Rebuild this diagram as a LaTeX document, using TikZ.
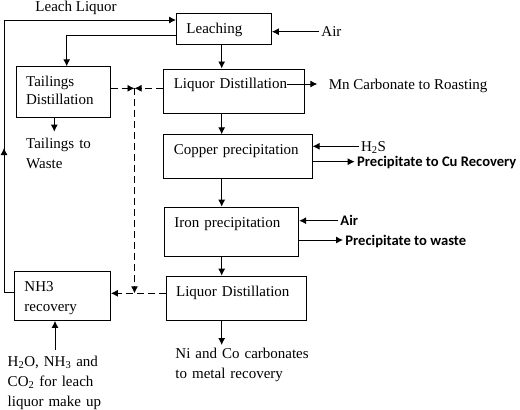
\documentclass[tikz,border=0pt]{standalone}
\usepackage{fontspec}
\setmainfont{Liberation Serif}
\newfontfamily\calib{Carlito}
\usetikzlibrary{arrows.meta,decorations.markings}

\begin{document}
\begin{tikzpicture}[x=1pt,y=-1pt,line width=0.9pt,
    font=\fontsize{15}{20}\selectfont,
    >={Latex[length=7pt,width=7pt]},
    box/.style={draw,anchor=north west,align=left,inner xsep=10pt,inner ysep=0pt,text height=20pt},
    lbl/.style={anchor=west,inner xsep=2pt,inner ysep=0pt,text height=10pt,text depth=0pt},
    blbl/.style={lbl,font=\fontsize{14.6}{20}\selectfont\calib\bfseries},
    mlbl/.style={anchor=north west,inner sep=0pt,align=left},
    flow/.style={dash pattern=on 7pt off 4pt}]
    \useasboundingbox (0,0) rectangle (520,410);
    % process boxes
    \node[box,text width=75pt,text depth=11pt] (leach) at (176,13) {Leaching};
    \node[box,text width=74.6pt,text depth=30.7pt] (tail) at (15.7,66.3) {Tailings\\[-2pt]Distillation};
    \node[box,text width=121pt,text depth=24pt] (liqA) at (163.3,68.5) {Liquor Distillation};
    \node[box,text width=128.4pt,text depth=23.4pt] (cu) at (163.3,134.3) {Copper precipitation};
    \node[box,text width=114.3pt,text depth=29.3pt] (fe) at (164,206.7) {Iron precipitation};
    \node[box,text width=120pt,text depth=24.3pt] (liqB) at (165.7,275.7) {Liquor Distillation};
    \node[box,text width=76pt,text depth=29.3pt] (nh) at (14,270.7) {NH3\\recovery};
    % stream labels
    \node[lbl] (leachliq) at (33,6.5) {Leach Liquor};
    \node[lbl] (airA) at (319,31.7) {Air};
    \node[lbl] (mn) at (326.3,84) {Mn Carbonate to Roasting};
    \node[lbl] (hs) at (358.7,146.3) {H\textsubscript{2}S};
    \node[blbl] (pcu) at (354.7,161.7) {Precipitate to Cu Recovery};
    \node[blbl] (airB) at (338,220.7) {Air};
    \node[blbl] (pw) at (343,240) {Precipitate to waste};
    \node[mlbl,text width=90pt,text height=16pt] (waste) at (25.7,131.7) {Tailings to\\Waste};
    \node[mlbl,text width=160pt,text height=13pt] (nico) at (175,345) {Ni and Co carbonates\\to metal recovery};
    \node[mlbl,text width=120pt,text height=16pt] (feed) at (7.3,350) {H\textsubscript{2}O, NH\textsubscript{3} and\\CO\textsubscript{2} for leach\\liquor make up};
    \coordinate (col) at (221.7,0);
    \coordinate (loopB) at (4,292.7);
    \coordinate (loopT) at (4,20);
    \coordinate (jn) at (134.5,88.3);
    \coordinate (jnB) at (134.5,293.3);
    \coordinate (mnout) at (286.7,84);
    % main flow
    \draw[->] (leach.south -| col) -- (liqA.north -| col);
    \draw[->] (liqA.south -| col) -- (cu.north -| col);
    \draw[->] (cu.south -| col) -- (fe.north -| col);
    \draw[->] (fe.south -| col) -- (liqB.north -| col);
    \draw[->] (liqB.south -| col) -- (nico.north -| col);
    % leach liquor recycle
    \draw[->,postaction={decorate},decoration={markings,mark=at position 154.7pt with {\arrow{>}}}]
        (nh.west |- loopB) -- (loopB) -- (loopT) -- (leach.west |- loopT);
    \draw[->] (leach.west |- 0,35.7) -| (tail.north -| 66.7,0);
    \draw[->] (tail.south -| 54.3,0) -- (waste.north -| 54.3,0);
    \draw[->] (feed.north -| 55,0) -- (nh.south -| 55,0);
    % side streams
    \draw[->] (airA.west) -- (leach.east |- airA.west);
    \draw[->] (mnout) -- ([xshift=-9pt]mn.west);
    \draw[->] (hs.west) -- (cu.east |- hs.west);
    \draw[->] (cu.east |- pcu.west) -- (pcu.west);
    \draw[->] (airB.west) -- (fe.east |- airB.west);
    \draw[->] (fe.east |- pw.west) -- (pw.west);
    % ammonia return
    \draw[->,flow] (tail.east |- jn) -- (jn);
    \draw[->,flow] (liqA.west |- jn) -- (jn);
    \draw[->,flow] (jn) -- (jnB);
    \draw[->,flow] (liqB.west |- jnB) -- (nh.east |- jnB);
\end{tikzpicture}
\end{document}
